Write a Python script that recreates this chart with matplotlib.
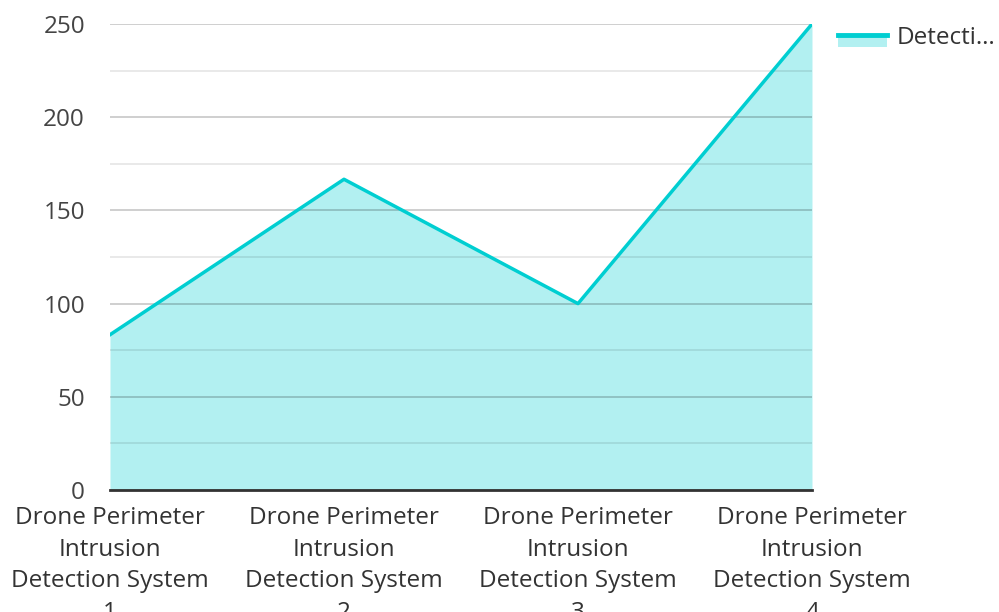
import matplotlib
matplotlib.use("Agg")
import matplotlib.pyplot as plt
from matplotlib.lines import Line2D
from matplotlib.patches import Rectangle
from matplotlib.legend_handler import HandlerBase
from matplotlib.ticker import MultipleLocator

plt.rcParams["font.family"] = ["Open Sans", "DejaVu Sans"]

# data
categories = [
    "Drone Perimeter\nIntrusion\nDetection System\n1",
    "Drone Perimeter\nIntrusion\nDetection System\n2",
    "Drone Perimeter\nIntrusion\nDetection System\n3",
    "Drone Perimeter\nIntrusion\nDetection System\n4",
]
detections = [83.3, 166.7, 100, 250]
series_label = "Detecti…"

LINE = "#00CED1"
FS = 17.5


class AreaHandler(HandlerBase):
    # legend key: a strip of fill with the line on its top edge
    def create_artists(self, legend, orig_handle, xdescent, ydescent,
                       width, height, fontsize, trans):
        top = -ydescent + height * 0.5
        rect = Rectangle((-xdescent, top - height * 0.7), width, height * 0.7,
                         facecolor=LINE, alpha=0.3, edgecolor="none", transform=trans)
        line = Line2D([-xdescent, -xdescent + width], [top, top],
                      color=LINE, linewidth=3.5, transform=trans)
        return [rect, line]


fig = plt.figure(figsize=(9.99, 6.12), dpi=100)
ax = fig.add_axes([0.1101, 0.1993, 0.7027, 0.7615])

x = list(range(len(categories)))
ax.fill_between(x, detections, 0, color=LINE, alpha=0.3, linewidth=0, zorder=1)
area_line, = ax.plot(x, detections, color=LINE, linewidth=2.5, zorder=3)

ax.set_xlim(0, len(categories) - 1)
ax.set_ylim(0, 250)
ax.yaxis.set_major_locator(MultipleLocator(50))
ax.yaxis.set_minor_locator(MultipleLocator(25))
ax.grid(which="major", axis="y", color="black", alpha=0.22, linewidth=1.2, zorder=2)
ax.grid(which="minor", axis="y", color="black", alpha=0.1, linewidth=1.2, zorder=2)
ax.set_axisbelow(False)

ax.set_xticks(x)
ax.set_xticklabels(categories, fontsize=FS, color="#333333", linespacing=1.42)
ax.tick_params(axis="y", which="both", length=0, labelsize=FS, labelcolor="#444444", pad=18)
ax.tick_params(axis="x", length=0, pad=11.5)

for side in ("left", "right", "top"):
    ax.spines[side].set_visible(False)
ax.spines["bottom"].set_color("#333333")
ax.spines["bottom"].set_linewidth(2)
ax.spines["bottom"].set_zorder(4)

ax.legend([area_line], [series_label], handler_map={area_line: AreaHandler()},
          loc="upper left", bbox_to_anchor=(1.037, 0.996), borderaxespad=0,
          borderpad=0, frameon=False, fontsize=FS, handlelength=2.0,
          handletextpad=0.42, labelcolor="#333333")

fig.savefig("out.png", dpi=100)
